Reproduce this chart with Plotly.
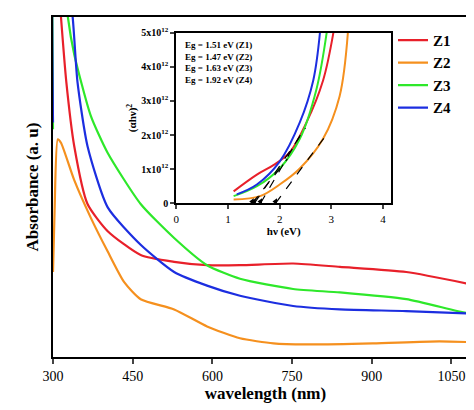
import plotly.graph_objects as go

# main absorbance spectra (arbitrary units)
z1_wl = [315, 325, 340, 365, 403, 465, 528, 590, 652, 752, 840, 965, 1099]
z1_ab = [1.0, 0.81, 0.62, 0.45, 0.37, 0.30, 0.28, 0.27, 0.27, 0.275, 0.265, 0.25, 0.21]
z2_wl = [300, 303, 309, 315, 340, 371, 403, 434, 465, 528, 590, 652, 715, 777, 902, 1027, 1099]
z2_ab = [0.25, 0.43, 0.64, 0.63, 0.52, 0.41, 0.31, 0.22, 0.17, 0.14, 0.09, 0.055, 0.04, 0.037, 0.04, 0.046, 0.043]
z3_wl = [300, 300.5, 328, 340, 371, 403, 465, 528, 590, 652, 752, 840, 965, 1077, 1099]
z3_ab = [0.67, 1.5, 1.0, 0.89, 0.71, 0.60, 0.45, 0.35, 0.27, 0.23, 0.20, 0.19, 0.17, 0.13, 0.127]
z4_wl = [300, 300.5, 337, 346, 365, 403, 465, 528, 590, 652, 752, 840, 965, 1099]
z4_ab = [0.69, 1.5, 1.0, 0.81, 0.62, 0.44, 0.33, 0.25, 0.21, 0.18, 0.15, 0.14, 0.135, 0.127]

# Tauc plot inset (units of 1e12)
t1_hv = [1.11, 1.56, 1.88, 2.2, 2.52, 2.84, 3.04]
t1_y = [0.35, 0.84, 1.12, 1.5, 2.37, 3.6, 5.0]
t2_hv = [1.11, 1.62, 2.0, 2.39, 2.84, 3.16, 3.32]
t2_y = [0.11, 0.21, 0.55, 1.02, 1.89, 3.14, 5.0]
t3_hv = [1.11, 1.56, 2.0, 2.39, 2.71, 2.91]
t3_y = [0.21, 0.5, 1.02, 1.89, 3.33, 5.0]
t4_hv = [1.17, 1.56, 2.0, 2.39, 2.65, 2.78]
t4_y = [0.26, 0.55, 1.22, 2.37, 3.6, 5.0]

# tangent lines: (Eg, end hv, end y)
tangents = [(1.51, 2.5, 2.2), (1.47, 2.15, 1.3), (1.63, 2.4, 2.0), (1.92, 2.9, 2.0)]
eg_text = ["Eg = 1.51 eV (Z1)", "Eg = 1.47 eV (Z2)", "Eg = 1.63 eV (Z3)", "Eg = 1.92 eV (Z4)"]

names = ["Z1", "Z2", "Z3", "Z4"]
colors = ["#e8202a", "#f5901e", "#2ee82a", "#1c2ee0"]

fnt = "Liberation Serif"
fig = go.Figure()

for n, c, x, y in zip(names, colors, [z1_wl, z2_wl, z3_wl, z4_wl], [z1_ab, z2_ab, z3_ab, z4_ab]):
    fig.add_trace(go.Scatter(x=x, y=y, name="<b>%s</b>" % n, mode="lines",
                             line=dict(color=c, width=2.2, shape="spline", smoothing=0.6)))

for c, x, y in zip(colors, [t1_hv, t2_hv, t3_hv, t4_hv], [t1_y, t2_y, t3_y, t4_y]):
    fig.add_trace(go.Scatter(x=x, y=[v * 1e12 for v in y], xaxis="x2", yaxis="y2", mode="lines",
                             showlegend=False, line=dict(color=c, width=2, shape="spline")))

for eg, hx, hy in tangents:
    fig.add_trace(go.Scatter(x=[eg, hx], y=[0, hy * 1e12], xaxis="x2", yaxis="y2", mode="lines",
                             showlegend=False, line=dict(color="black", width=1.2, dash="dash")))
fig.add_trace(go.Scatter(x=[t[0] for t in tangents], y=[0.05e12] * 4, xaxis="x2", yaxis="y2", mode="markers",
                         showlegend=False, marker=dict(color="black", size=6, symbol="triangle-left")))

fig.add_annotation(xref="x2 domain", yref="y2 domain", x=0.03, y=0.97, xanchor="left", yanchor="top",
                   text="<br>".join("<b>%s</b>" % t for t in eg_text), showarrow=False, align="left",
                   font=dict(family=fnt, size=9, color="black"))

tick = dict(family=fnt, size=14, color="black")
fig.update_layout(
    width=474, height=410,
    margin=dict(l=45, r=2, t=2, b=61),
    plot_bgcolor="white", paper_bgcolor="white",
    font=dict(family=fnt, color="black"),
    xaxis=dict(range=[300, 1100], tickvals=[300, 450, 600, 750, 900, 1050], ticks="outside", ticklen=5,
               tickwidth=2, showgrid=False, zeroline=False, showline=True, linecolor="black", linewidth=2,
               mirror=True, tickfont=tick, tickprefix="<b>", ticksuffix="</b>",
               title=dict(text="<b>wavelength (nm)</b>", font=dict(family=fnt, size=17), standoff=4)),
    yaxis=dict(range=[0, 1], showticklabels=False, ticks="", showgrid=False, zeroline=False,
               showline=True, linecolor="black", linewidth=2, mirror=True,
               title=dict(text="<b>Absorbance (a. u)</b>", font=dict(family=fnt, size=17), standoff=8)),
    xaxis2=dict(domain=[0.29, 0.796], anchor="y2", range=[0, 4.16], tickvals=[0, 1, 2, 3, 4],
                ticks="outside", ticklen=4, tickwidth=1.5, showgrid=False, zeroline=False, showline=True,
                linecolor="black", linewidth=2, mirror=True, tickprefix="<b>", ticksuffix="</b>",
                tickfont=dict(family=fnt, size=11, color="black"),
                title=dict(text="<b>hν (eV)</b>", font=dict(family=fnt, size=11), standoff=2)),
    yaxis2=dict(domain=[0.452, 0.954], anchor="x2", range=[0, 5e12],
                tickvals=[0, 1e12, 2e12, 3e12, 4e12, 5e12],
                ticktext=["<b>0</b>"] + ["<b>%dx10<sup>12</sup></b>" % i for i in range(1, 6)],
                ticks="outside", ticklen=4, tickwidth=1.5, showgrid=False, zeroline=False, showline=True,
                linecolor="black", linewidth=2, mirror=True,
                tickfont=dict(family=fnt, size=10, color="black"),
                title=dict(text="<b>(αhν)<sup>2</sup></b>", font=dict(family=fnt, size=11), standoff=2)),
    legend=dict(x=0.8, y=0.98, xanchor="left", yanchor="top", bgcolor="rgba(0,0,0,0)",
                font=dict(family=fnt, size=15, color="black"), itemwidth=30),
)
fig.write_html("out.html")
